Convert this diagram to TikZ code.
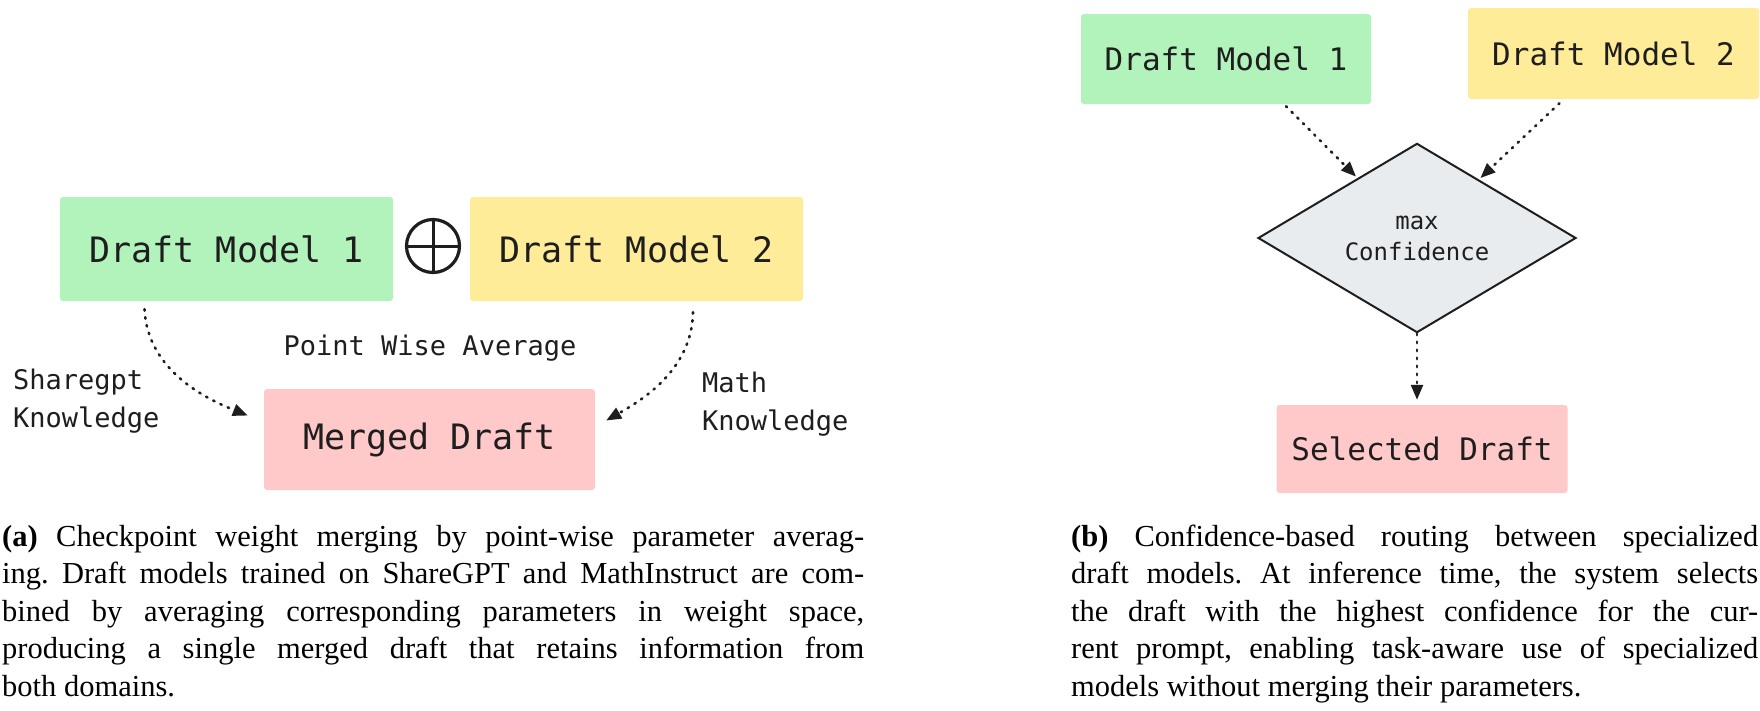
\documentclass[tikz,border=0pt]{standalone}
\usepackage{fontspec}
\setmainfont{Liberation Serif}
\newfontfamily\handfont{DejaVu Sans Mono}
\usetikzlibrary{arrows.meta,shapes.geometric}
\definecolor{ink}{HTML}{1E1E1E}
\definecolor{boxgreen}{HTML}{B2F2BB}
\definecolor{boxyellow}{HTML}{FFEC99}
\definecolor{boxpink}{HTML}{FFC9C9}
\definecolor{boxgray}{HTML}{E9ECEF}
\frenchspacing
\begin{document}
\begin{tikzpicture}[x=1pt,y=-1pt,
  box/.style={rectangle, rounded corners=3pt, inner sep=0pt, text=ink},
  bigtxt/.style={font=\handfont\fontsize{35}{42}\selectfont},
  midtxt/.style={font=\handfont\fontsize{31}{38}\selectfont},
  lbl/.style={inner sep=0pt, text=ink, font=\handfont\fontsize{27}{38}\selectfont},
  dotarrow/.style={draw=ink, line width=2.6pt, line cap=round, dash pattern=on 1.5pt off 6.5pt,
    -{Triangle[length=15pt,width=12pt]}},
  capline/.style={inner sep=0pt, anchor=base west, text=black, font=\fontsize{30.5}{37}\selectfont}
]
\useasboundingbox (0,0) rectangle (1760,710);

% ---------- panel (a) ----------
\node[box, bigtxt, fill=boxgreen, minimum width=333pt, minimum height=104pt] (dmA) at (226.5,249) {Draft Model 1};
\node[box, bigtxt, fill=boxyellow, minimum width=333pt, minimum height=104pt] (dmB) at (636.5,249) {Draft Model 2};
\node[box, bigtxt, fill=boxpink, minimum width=331pt, minimum height=101pt] (mrg) at (429.5,439.5) {Merged Draft};
\node[circle, draw=ink, line width=3.2pt, minimum size=53pt, inner sep=0pt] (oplus) at (433,246) {};
\draw[ink, line width=3pt] (oplus.north) -- (oplus.south) (oplus.west) -- (oplus.east);

\node[lbl] (pwa) at (430,348) {Point Wise Average};
\node[lbl, align=left, anchor=west] (shr) at (13,401) {Sharegpt\\Knowledge};
\node[lbl, align=left, anchor=west] (mth) at (702,404) {Math\\Knowledge};

\draw[dotarrow] ([xshift=-82pt,yshift=-8pt]dmA.south) .. controls +(3,62) and +(-40,-16) .. ([xshift=-16pt,yshift=24pt]mrg.west);
\draw[dotarrow] ([xshift=56.5pt,yshift=-11pt]dmB.south) .. controls +(-1,58) and +(35,-20) .. ([xshift=11pt,yshift=19pt]mrg.east);

% ---------- panel (b) ----------
\node[box, midtxt, fill=boxgreen, minimum width=290pt, minimum height=90pt] (dmC) at (1226,59) {Draft Model 1};
\node[box, midtxt, fill=boxyellow, minimum width=291pt, minimum height=91pt] (dmD) at (1613.5,53.5) {Draft Model 2};
\node[diamond, draw=ink, fill=boxgray, line width=2pt, minimum width=318pt, minimum height=184pt,
  inner sep=0pt, align=center, text=ink, font=\handfont\fontsize{24}{31}\selectfont] (dec) at (1417,238) {max\\Confidence};
\node[box, midtxt, fill=boxpink, minimum width=291pt, minimum height=88pt] (sel) at (1422,449) {Selected Draft};

\draw[dotarrow, shorten >=2pt] ([xshift=60pt,yshift=-2pt]dmC.south) -- (dec);
\draw[dotarrow, shorten >=2pt] ([xshift=-54pt,yshift=-4pt]dmD.south) -- (dec);
\draw[dotarrow, shorten >=5pt] (dec.south) -- (sel.north -| dec.south);

% ---------- captions ----------
\node[capline] (ca1) at (2,546) {\makebox[862pt][s]{\textbf{(a)} Checkpoint weight merging by point-wise parameter averag-}};
\node[capline] (ca2) at (2,583.5) {\makebox[862pt][s]{ing. Draft models trained on ShareGPT and MathInstruct are com-}};
\node[capline] (ca3) at (2,621) {\makebox[862pt][s]{bined by averaging corresponding parameters in weight space,}};
\node[capline] (ca4) at (2,658.5) {\makebox[862pt][s]{producing a single merged draft that retains information from}};
\node[capline] (ca5) at (2,696) {both domains.};

\node[capline] (cb1) at (1071,546) {\makebox[687pt][s]{\textbf{(b)} Confidence-based routing between specialized}};
\node[capline] (cb2) at (1071,583.5) {\makebox[687pt][s]{draft models. At inference time, the system selects}};
\node[capline] (cb3) at (1071,621) {\makebox[687pt][s]{the draft with the highest confidence for the cur-}};
\node[capline] (cb4) at (1071,658.5) {\makebox[687pt][s]{rent prompt, enabling task-aware use of specialized}};
\node[capline] (cb5) at (1071,696) {models without merging their parameters.};
\end{tikzpicture}
\end{document}
